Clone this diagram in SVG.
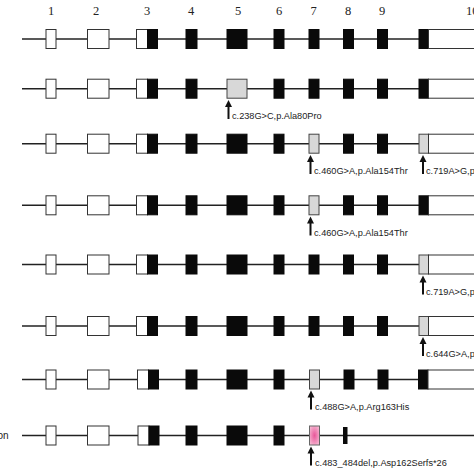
<svg xmlns="http://www.w3.org/2000/svg" width="474" height="474" viewBox="0 0 474 474">
<style>
.num{font-family:"Liberation Serif","Times New Roman",serif;font-size:12.5px;fill:#222;text-anchor:middle}
.lab{font-family:"Liberation Sans",Arial,sans-serif;font-size:9.2px;fill:#222}
.ln{stroke:#222;stroke-width:1.6;fill:none}
.w{fill:#fff;stroke:#333;stroke-width:1}
.b{fill:#0a0a0a;stroke:#0a0a0a;stroke-width:1}
.g{fill:#d8d8d8;stroke:#444;stroke-width:1}
.p{fill:url(#pink);stroke:#666;stroke-width:1}
.arr{stroke:#111;stroke-width:2;fill:none;marker-end:url(#ah)}
</style>
<defs>
<marker id="ah" markerUnits="userSpaceOnUse" markerWidth="8" markerHeight="8" refX="1" refY="4" orient="auto" viewBox="0 0 8 8">
<path d="M0,0.5 L7,4 L0,7.5 z" fill="#111"/>
</marker>
<radialGradient id="pink" cx="0.5" cy="0.5" r="0.6">
<stop offset="0" stop-color="#e9579a"/>
<stop offset="1" stop-color="#f6b8d2"/>
</radialGradient>
</defs>
<rect width="474" height="474" fill="#fff"/>
<g id="exon-numbers">
<text class="num" x="51" y="15">1</text>
<text class="num" x="96" y="15">2</text>
<text class="num" x="147" y="15">3</text>
<text class="num" x="191" y="15">4</text>
<text class="num" x="238" y="15">5</text>
<text class="num" x="279" y="15">6</text>
<text class="num" x="313.5" y="15">7</text>
<text class="num" x="348" y="15">8</text>
<text class="num" x="382" y="15">9</text>
<text class="num" x="466" y="15" style="text-anchor:start">10</text>
</g>
<g id="connectors">
<line class="ln" x1="22" y1="39" x2="474" y2="39"/>
<line class="ln" x1="22" y1="88.7" x2="474" y2="88.7"/>
<line class="ln" x1="22" y1="143.7" x2="474" y2="143.7"/>
<line class="ln" x1="22" y1="205.3" x2="474" y2="205.3"/>
<line class="ln" x1="22" y1="264.5" x2="474" y2="264.5"/>
<line class="ln" x1="22" y1="326" x2="474" y2="326"/>
<line class="ln" x1="22" y1="379.5" x2="474" y2="379.5"/>
<line class="ln" x1="22" y1="435.5" x2="474" y2="435.5"/>
<line class="arr" x1="228.5" y1="119" x2="228.5" y2="106"/>
<line class="arr" x1="310.5" y1="174" x2="310.5" y2="161"/>
<line class="arr" x1="423" y1="174" x2="423" y2="161"/>
<line class="arr" x1="310.5" y1="235.5" x2="310.5" y2="222.5"/>
<line class="arr" x1="423" y1="294.5" x2="423" y2="281.5"/>
<line class="arr" x1="423" y1="356" x2="423" y2="343"/>
<line class="arr" x1="311" y1="409.5" x2="311" y2="396.5"/>
<line class="arr" x1="311" y1="465.5" x2="311" y2="452.5"/>
</g>
<g id="row1" transform="translate(0,39)">
<rect class="w" x="46" y="-9.5" width="10" height="19"/>
<rect class="w" x="87.5" y="-9.5" width="21.5" height="19"/>
<rect class="w" x="136.5" y="-9.5" width="11" height="19"/>
<rect class="b" x="147.5" y="-9.5" width="10" height="19"/>
<rect class="b" x="186" y="-9.5" width="11" height="19"/>
<rect class="b" x="227" y="-9.5" width="20" height="19"/>
<rect class="b" x="274" y="-9.5" width="10" height="19"/>
<rect class="b" x="309" y="-9.5" width="10" height="19"/>
<rect class="b" x="343.5" y="-9.5" width="10" height="19"/>
<rect class="b" x="377.5" y="-9.5" width="10" height="19"/>
<rect class="b" x="419" y="-9.5" width="9.5" height="19"/>
<rect class="w" x="428.5" y="-9.5" width="50" height="19"/>
</g>
<g id="row2" transform="translate(0,88.7)">
<rect class="w" x="46" y="-9.5" width="10" height="19"/>
<rect class="w" x="87.5" y="-9.5" width="21.5" height="19"/>
<rect class="w" x="136.5" y="-9.5" width="11" height="19"/>
<rect class="b" x="147.5" y="-9.5" width="10" height="19"/>
<rect class="b" x="186" y="-9.5" width="11" height="19"/>
<rect class="g" x="227" y="-9.5" width="20" height="19"/>
<rect class="b" x="274" y="-9.5" width="10" height="19"/>
<rect class="b" x="309" y="-9.5" width="10" height="19"/>
<rect class="b" x="343.5" y="-9.5" width="10" height="19"/>
<rect class="b" x="377.5" y="-9.5" width="10" height="19"/>
<rect class="b" x="419" y="-9.5" width="9.5" height="19"/>
<rect class="w" x="428.5" y="-9.5" width="50" height="19"/>
<text class="lab" x="232" y="30.5">c.238G&gt;C,p.Ala80Pro</text>
</g>
<g id="row3" transform="translate(0,143.7)">
<rect class="w" x="46" y="-9.5" width="10" height="19"/>
<rect class="w" x="87.5" y="-9.5" width="21.5" height="19"/>
<rect class="w" x="136.5" y="-9.5" width="11" height="19"/>
<rect class="b" x="147.5" y="-9.5" width="10" height="19"/>
<rect class="b" x="186" y="-9.5" width="11" height="19"/>
<rect class="b" x="227" y="-9.5" width="20" height="19"/>
<rect class="b" x="274" y="-9.5" width="10" height="19"/>
<rect class="g" x="309" y="-9.5" width="10" height="19"/>
<rect class="b" x="343.5" y="-9.5" width="10" height="19"/>
<rect class="b" x="377.5" y="-9.5" width="10" height="19"/>
<rect class="g" x="419" y="-9.5" width="9.5" height="19"/>
<rect class="w" x="428.5" y="-9.5" width="50" height="19"/>
<text class="lab" x="314" y="30.5">c.460G&gt;A,p.Ala154Thr</text>
<text class="lab" x="426" y="30.5">c.719A&gt;G,p</text>
</g>
<g id="row4" transform="translate(0,205.3)">
<rect class="w" x="46" y="-9.5" width="10" height="19"/>
<rect class="w" x="87.5" y="-9.5" width="21.5" height="19"/>
<rect class="w" x="136.5" y="-9.5" width="11" height="19"/>
<rect class="b" x="147.5" y="-9.5" width="10" height="19"/>
<rect class="b" x="186" y="-9.5" width="11" height="19"/>
<rect class="b" x="227" y="-9.5" width="20" height="19"/>
<rect class="b" x="274" y="-9.5" width="10" height="19"/>
<rect class="g" x="309" y="-9.5" width="10" height="19"/>
<rect class="b" x="343.5" y="-9.5" width="10" height="19"/>
<rect class="b" x="377.5" y="-9.5" width="10" height="19"/>
<rect class="b" x="419" y="-9.5" width="9.5" height="19"/>
<rect class="w" x="428.5" y="-9.5" width="50" height="19"/>
<text class="lab" x="314" y="30.5">c.460G&gt;A,p.Ala154Thr</text>
</g>
<g id="row5" transform="translate(0,264.5)">
<rect class="w" x="46" y="-9.5" width="10" height="19"/>
<rect class="w" x="87.5" y="-9.5" width="21.5" height="19"/>
<rect class="w" x="136.5" y="-9.5" width="11" height="19"/>
<rect class="b" x="147.5" y="-9.5" width="10" height="19"/>
<rect class="b" x="186" y="-9.5" width="11" height="19"/>
<rect class="b" x="227" y="-9.5" width="20" height="19"/>
<rect class="b" x="274" y="-9.5" width="10" height="19"/>
<rect class="b" x="309" y="-9.5" width="10" height="19"/>
<rect class="b" x="343.5" y="-9.5" width="10" height="19"/>
<rect class="b" x="377.5" y="-9.5" width="10" height="19"/>
<rect class="g" x="419" y="-9.5" width="9.5" height="19"/>
<rect class="w" x="428.5" y="-9.5" width="50" height="19"/>
<text class="lab" x="426" y="30.5">c.719A&gt;G,p</text>
</g>
<g id="row6" transform="translate(0,326)">
<rect class="w" x="46" y="-9.5" width="10" height="19"/>
<rect class="w" x="87.5" y="-9.5" width="21.5" height="19"/>
<rect class="w" x="136.5" y="-9.5" width="11" height="19"/>
<rect class="b" x="147.5" y="-9.5" width="10" height="19"/>
<rect class="b" x="186" y="-9.5" width="11" height="19"/>
<rect class="b" x="227" y="-9.5" width="20" height="19"/>
<rect class="b" x="274" y="-9.5" width="10" height="19"/>
<rect class="b" x="309" y="-9.5" width="10" height="19"/>
<rect class="b" x="343.5" y="-9.5" width="10" height="19"/>
<rect class="b" x="377.5" y="-9.5" width="10" height="19"/>
<rect class="g" x="419" y="-9.5" width="9.5" height="19"/>
<rect class="w" x="428.5" y="-9.5" width="50" height="19"/>
<text class="lab" x="426" y="30.5">c.644G&gt;A,p</text>
</g>
<g id="row7" transform="translate(0,379.5)">
<rect class="w" x="46" y="-9.5" width="10" height="19"/>
<rect class="w" x="87.5" y="-9.5" width="21.5" height="19"/>
<rect class="w" x="137.5" y="-9.5" width="11" height="19"/>
<rect class="b" x="148.5" y="-9.5" width="10" height="19"/>
<rect class="b" x="186" y="-9.5" width="11" height="19"/>
<rect class="b" x="227" y="-9.5" width="20" height="19"/>
<rect class="b" x="274" y="-9.5" width="10" height="19"/>
<rect class="g" x="309.5" y="-9.5" width="10" height="19"/>
<rect class="b" x="344" y="-9.5" width="10" height="19"/>
<rect class="b" x="378" y="-9.5" width="10" height="19"/>
<rect class="b" x="418.5" y="-9.5" width="9.5" height="19"/>
<rect class="w" x="428" y="-9.5" width="50" height="19"/>
<text class="lab" x="315" y="30.5">c.488G&gt;A,p.Arg163His</text>
</g>
<g id="row8" transform="translate(0,435.5)">
<text class="lab" x="8.5" y="3.5" style="text-anchor:end;font-size:10px">on</text>
<rect class="w" x="46" y="-9.5" width="10" height="19"/>
<rect class="w" x="87.5" y="-9.5" width="21.5" height="19"/>
<rect class="w" x="138" y="-9.5" width="11" height="19"/>
<rect class="b" x="149" y="-9.5" width="10" height="19"/>
<rect class="b" x="186" y="-9.5" width="11" height="19"/>
<rect class="b" x="227" y="-9.5" width="20" height="19"/>
<rect class="b" x="274" y="-9.5" width="10" height="19"/>
<rect class="p" x="309.5" y="-9.5" width="10" height="19"/>
<rect class="b" x="343.5" y="-8" width="3.5" height="16"/>
<text class="lab" x="315" y="30.5">c.483_484del,p.Asp162Serfs*26</text>
</g>
</svg>
